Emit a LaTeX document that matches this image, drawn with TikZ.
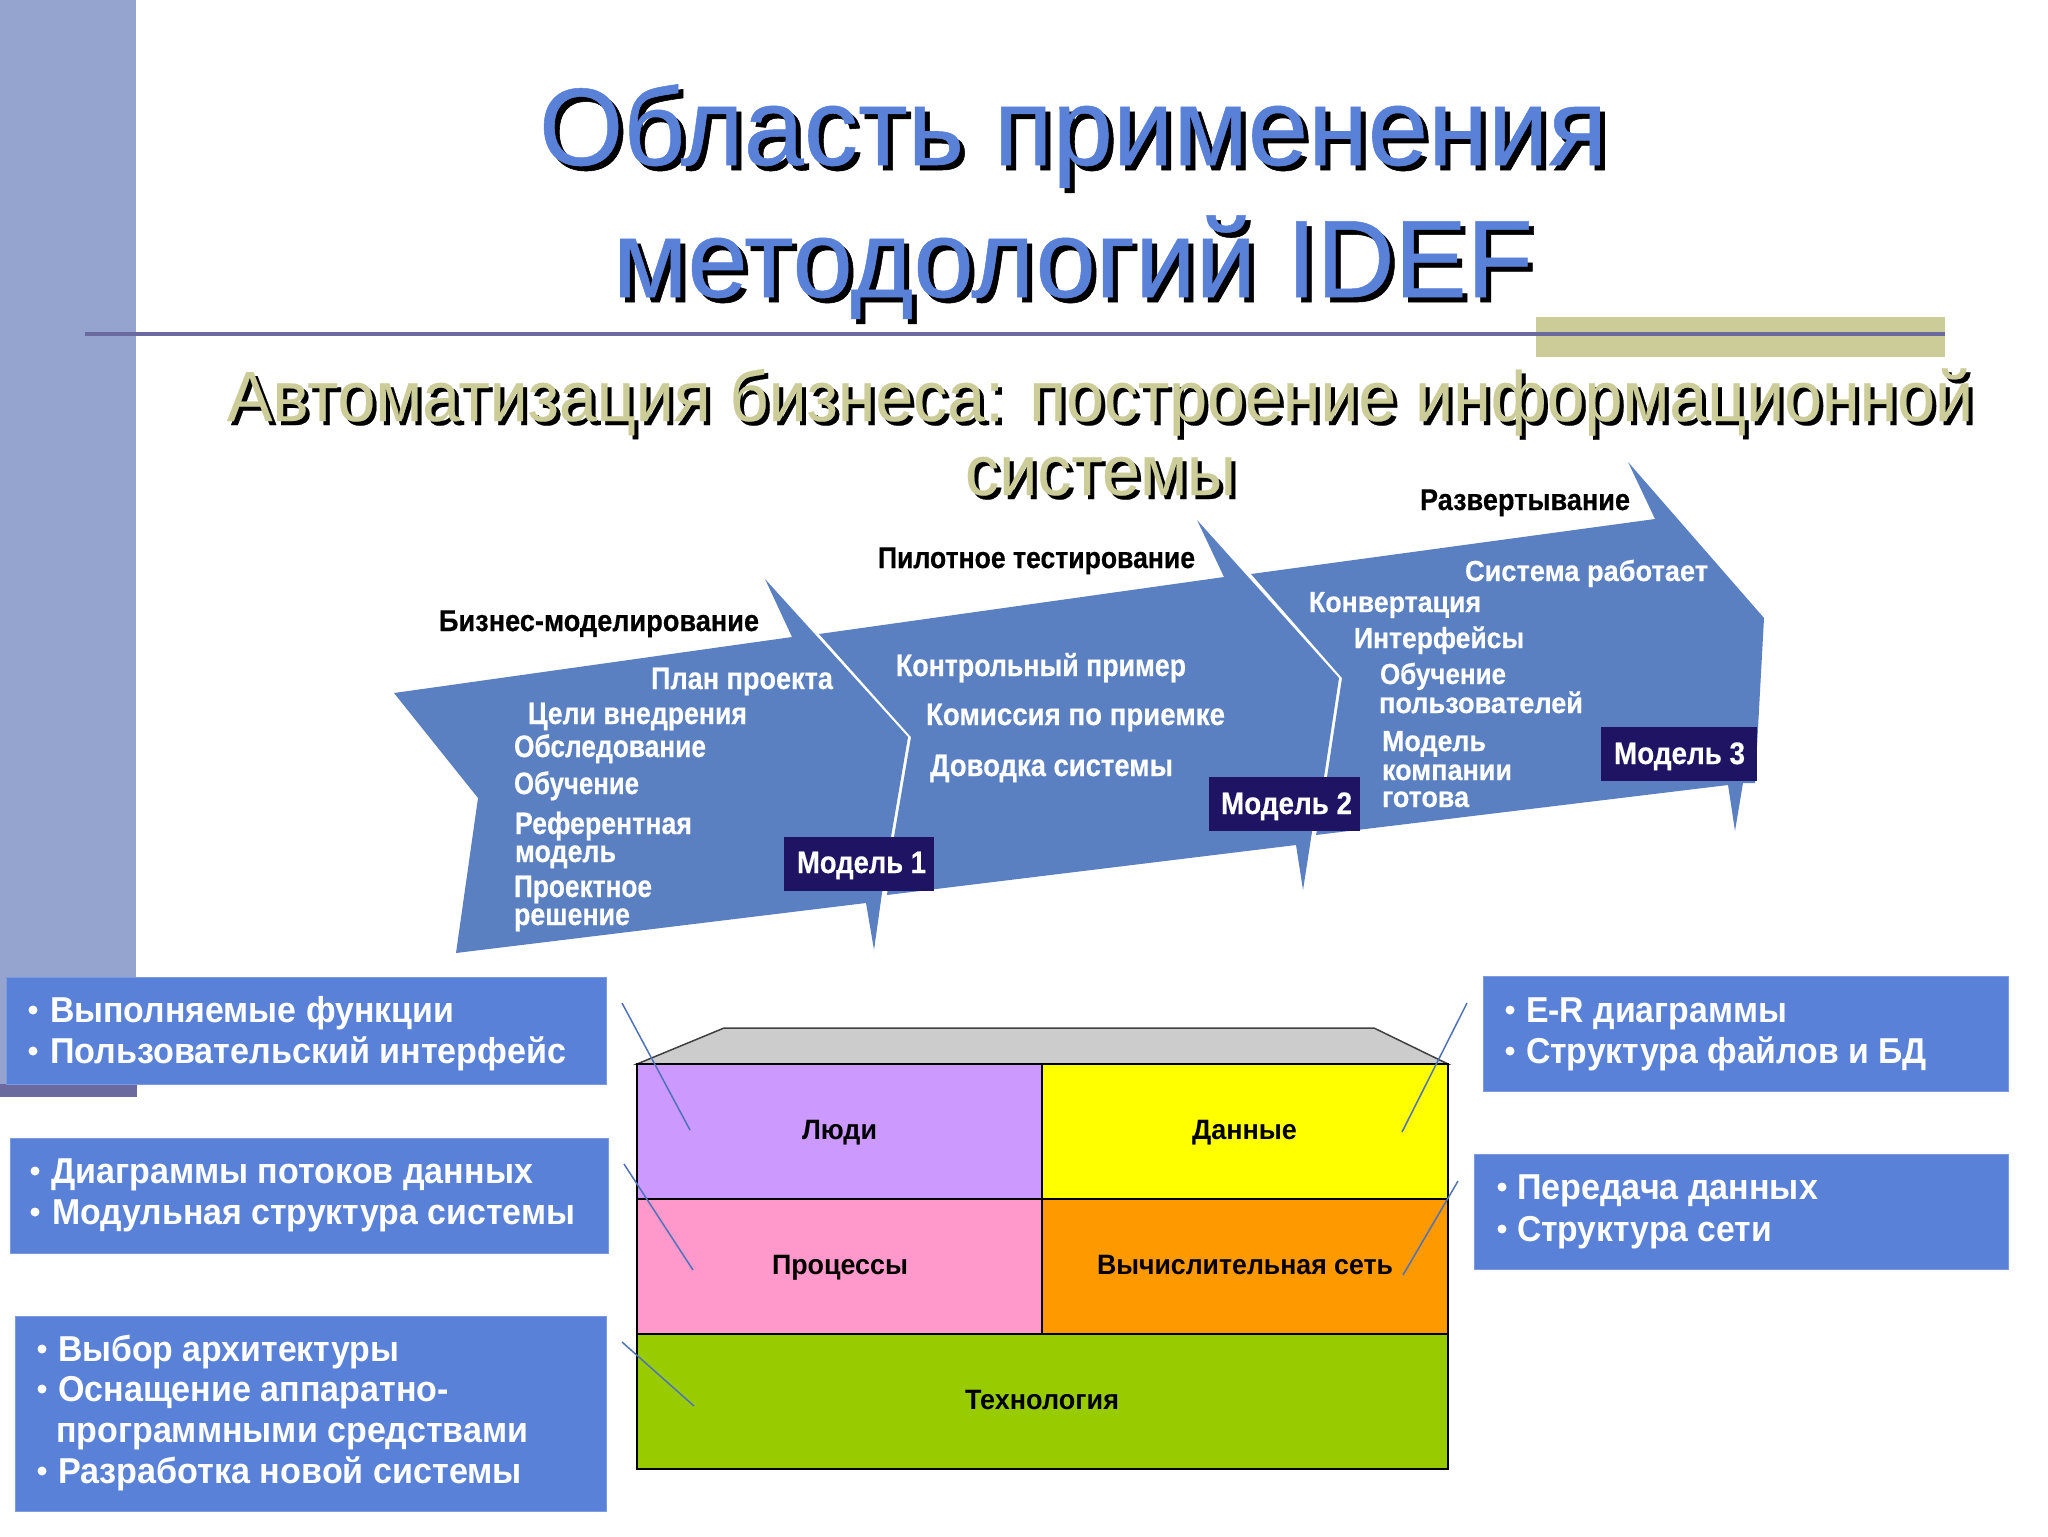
\documentclass[tikz,border=0pt]{standalone}
\usepackage{fontspec}
\usepackage{graphicx}
\setmainfont{Liberation Sans}
\newfontfamily\heavytitle[FakeBold=0.5]{Liberation Sans}
\newfontfamily\heavysub[FakeBold=0.3]{Liberation Sans}
\newfontfamily\heavypix[BoldFont={Liberation Sans Bold},BoldFeatures={FakeBold=0.5}]{Liberation Sans}
\definecolor{bandc}{HTML}{95A3CF}
\definecolor{rulec}{HTML}{6A6A9E}
\definecolor{olivec}{HTML}{CCCC99}
\definecolor{arrowc}{HTML}{5A80C2}
\definecolor{boxc}{HTML}{5A81D8}
\definecolor{navyc}{HTML}{1F1464}
\definecolor{linkc}{HTML}{4F72B8}
\definecolor{cellpurple}{HTML}{CC99FF}
\definecolor{cellyellow}{HTML}{FFFF00}
\definecolor{cellpink}{HTML}{FF99CC}
\definecolor{cellorange}{HTML}{FF9900}
\definecolor{cellgreen}{HTML}{99CC00}
\newcommand\fitw[2]{\resizebox{\dimexpr #1pt/2\relax}{\height}{#2}}
\tikzset{
  lab/.style={inner sep=0pt,outer sep=0pt,anchor=base west},
  titleface/.style={lab,text=boxc,font=\heavytitle\fontsize{55}{55}\selectfont},
  titleshade/.style={lab,text=black,font=\heavytitle\fontsize{55}{55}\selectfont},
  subface/.style={lab,text=olivec,font=\heavysub\fontsize{35.5}{35.5}\selectfont},
  subshade/.style={lab,text=black,font=\heavysub\fontsize{35.5}{35.5}\selectfont},
  pix/.style={lab,text=white,font=\heavypix\bfseries\fontsize{15.5}{15.5}\selectfont},
  pixsm/.style={lab,text=white,font=\heavypix\bfseries\fontsize{14.5}{14.5}\selectfont},
  pixdark/.style={lab,text=black,font=\heavypix\bfseries\fontsize{15}{15}\selectfont},
  modelbox/.style={fill=navyc,draw=none},
  infobox/.style={fill=boxc,draw=boxc!80!white,line width=0.5pt},
  info/.style={lab,text=white,font=\bfseries\fontsize{18}{18}\selectfont},
  dot/.style={circle,fill=white,inner sep=0pt,minimum size=4.5pt},
  cell/.style={draw=black,line width=1pt},
  celltext/.style={lab,text=black,font=\bfseries\fontsize{14}{14}\selectfont},
  link/.style={draw=linkc,line width=0.75pt},
  stagearrow/.style={fill=arrowc,draw=none}
}
\begin{document}
\begin{tikzpicture}[x=0.5pt,y=-0.5pt]
\useasboundingbox (0,0) rectangle (2048,1536);
% slide decoration
\fill[bandc] (0,0) rectangle (136,1084);
\fill[rulec] (0,1084) rectangle (137,1097);
\fill[olivec] (1536,317) rectangle (1945,357);
\fill[rulec] (85,332) rectangle (1945,336);
% title
\node[titleshade] (t1s) at (544,170) {\fitw{1068}{Область применения}};
\node[titleface] (t1) at (539,165) {\fitw{1068}{Область применения}};
\node[titleshade] (t2s) at (618,302) {\fitw{920}{методологий IDEF}};
\node[titleface] (t2) at (613,297) {\fitw{920}{методологий IDEF}};
% subtitle
\node[subshade] (s1s) at (231,425) {\fitw{1746}{Автоматизация бизнеса: построение информационной}};
\node[subface] (s1) at (227,421) {\fitw{1746}{Автоматизация бизнеса: построение информационной}};
\node[subshade] (s2s) at (969,499) {\fitw{271}{системы}};
\node[subface] (s2) at (965,495) {\fitw{271}{системы}};
% stage arrows
\path[stagearrow] (394,693) -- (792,637) -- (765,579) -- (908,737) -- (891,837) -- (882,893) -- (874,950) -- (866,903) -- (456,953) -- (478,798) -- cycle;
\path[stagearrow] (819,634) -- (1224,577) -- (1197,520) -- (1339,678) -- (1324,777) -- (1312,832) -- (1303,890) -- (1296,845) -- (887,895) -- (894,837) -- (911,737) -- cycle;
\path[stagearrow] (1251,574) -- (1655,519) -- (1628,462) -- (1764,618) -- (1755,783) -- (1743,783) -- (1735,831) -- (1728,785) -- (1316,835) -- (1327,777) -- (1342,678) -- cycle;
\fill[modelbox] (784,837) rectangle (934,891);
\fill[modelbox] (1209,777) rectangle (1360,831);
\fill[modelbox] (1601,727) rectangle (1757,781);
% stage headings
\node[pixdark] (h1) at (439,631) {\fitw{320}{Бизнес-моделирование}};
\node[pixdark] (h2) at (878,568) {\fitw{317}{Пилотное тестирование}};
\node[pixdark] (h3) at (1420,510) {\fitw{210}{Развертывание}};
% stage 1
\node[pix] (a1) at (651,689) {\fitw{182}{План проекта}};
\node[pix] (a2) at (528,724) {\fitw{219}{Цели внедрения}};
\node[pix] (a3) at (514,757) {\fitw{192}{Обследование}};
\node[pix] (a4) at (514,794) {\fitw{125}{Обучение}};
\node[pix] (a5) at (515,834) {\fitw{177}{Референтная}};
\node[pix] (a6) at (515,862) {\fitw{101}{модель}};
\node[pix] (a7) at (514,897) {\fitw{138}{Проектное}};
\node[pix] (a8) at (514,925) {\fitw{116}{решение}};
\node[pix] (m1) at (797,873) {\fitw{129}{Модель 1}};
% stage 2
\node[pix] (b1) at (896,676) {\fitw{290}{Контрольный пример}};
\node[pix] (b2) at (926,725) {\fitw{299}{Комиссия по приемке}};
\node[pix] (b3) at (930,776) {\fitw{243}{Доводка системы}};
\node[pix] (m2) at (1221,814) {\fitw{131}{Модель 2}};
% stage 3
\node[pixsm] (c1) at (1465,581) {\fitw{243}{Система работает}};
\node[pixsm] (c2) at (1309,612) {\fitw{172}{Конвертация}};
\node[pixsm] (c3) at (1354,648) {\fitw{170}{Интерфейсы}};
\node[pixsm] (c4) at (1380,684) {\fitw{126}{Обучение}};
\node[pixsm] (c5) at (1379,713) {\fitw{204}{пользователей}};
\node[pixsm] (c6) at (1382,751) {\fitw{104}{Модель}};
\node[pixsm] (c7) at (1382,780) {\fitw{130}{компании}};
\node[pixsm] (c8) at (1382,807) {\fitw{87}{готова}};
\node[pix] (m3) at (1614,764) {\fitw{131}{Модель 3}};
% block
\filldraw[fill=black!20,draw=black!75,line width=0.75pt] (637,1064) -- (724,1028) -- (1374,1028) -- (1448,1064) -- cycle;
\filldraw[cell,fill=cellpurple] (637,1064) rectangle (1042,1199);
\filldraw[cell,fill=cellyellow] (1042,1064) rectangle (1448,1199);
\filldraw[cell,fill=cellpink] (637,1199) rectangle (1042,1334);
\filldraw[cell,fill=cellorange] (1042,1199) rectangle (1448,1334);
\filldraw[cell,fill=cellgreen] (637,1334) rectangle (1448,1469);
\node[celltext] (p1) at (802,1139) {\fitw{75}{Люди}};
\node[celltext] (p2) at (1192,1139) {\fitw{105}{Данные}};
\node[celltext] (p3) at (772,1274) {\fitw{136}{Процессы}};
\node[celltext] (p4) at (1097,1274) {\fitw{296}{Вычислительная сеть}};
\node[celltext] (p5) at (965,1409) {\fitw{154}{Технология}};
% info boxes
\path[infobox] (6,977) rectangle (606,1084);
\path[infobox] (10,1138) rectangle (608,1253);
\path[infobox] (15,1316) rectangle (606,1511);
\path[infobox] (1483,976) rectangle (2008,1091);
\path[infobox] (1474,1154) rectangle (2008,1269);
\node[dot] (d1) at (33,1010) {}; \node[info] (i1) at (50,1022) {\fitw{404}{Выполняемые функции}};
\node[dot] (d2) at (33,1051) {}; \node[info] (i2) at (50,1063) {\fitw{516}{Пользовательский интерфейс}};
\node[dot] (d3) at (35,1171) {}; \node[info] (i3) at (51,1183) {\fitw{482}{Диаграммы потоков данных}};
\node[dot] (d4) at (35,1212) {}; \node[info] (i4) at (52,1224) {\fitw{523}{Модульная структура системы}};
\node[dot] (d5) at (42,1349) {}; \node[info] (i5) at (58,1361) {\fitw{341}{Выбор архитектуры}};
\node[dot] (d6) at (42,1389) {}; \node[info] (i6) at (58,1401) {\fitw{391}{Оснащение аппаратно-}};
\node[info] (i7) at (56,1442) {\fitw{472}{программными средствами}};
\node[dot] (d7) at (42,1471) {}; \node[info] (i8) at (58,1483) {\fitw{464}{Разработка новой системы}};
\node[dot] (d8) at (1510,1010) {}; \node[info] (i9) at (1526,1022) {\fitw{261}{E-R диаграммы}};
\node[dot] (d9) at (1510,1051) {}; \node[info] (i10) at (1526,1063) {\fitw{401}{Структура файлов и БД}};
\node[dot] (d10) at (1502,1187) {}; \node[info] (i11) at (1517,1199) {\fitw{301}{Передача данных}};
\node[dot] (d11) at (1502,1229) {}; \node[info] (i12) at (1517,1241) {\fitw{255}{Структура сети}};
% leader lines
\coordinate (l1a) at (622,1003); \coordinate (l1b) at (690,1130);
\coordinate (l2a) at (624,1164); \coordinate (l2b) at (693,1270);
\coordinate (l3a) at (622,1342); \coordinate (l3b) at (694,1406);
\coordinate (r1a) at (1467,1003); \coordinate (r1b) at (1402,1132);
\coordinate (r2a) at (1458,1181); \coordinate (r2b) at (1403,1275);
\draw[link] (l1a) -- (l1b);
\draw[link] (l2a) -- (l2b);
\draw[link] (l3a) -- (l3b);
\draw[link] (r1a) -- (r1b);
\draw[link] (r2a) -- (r2b);
\end{tikzpicture}
\end{document}
